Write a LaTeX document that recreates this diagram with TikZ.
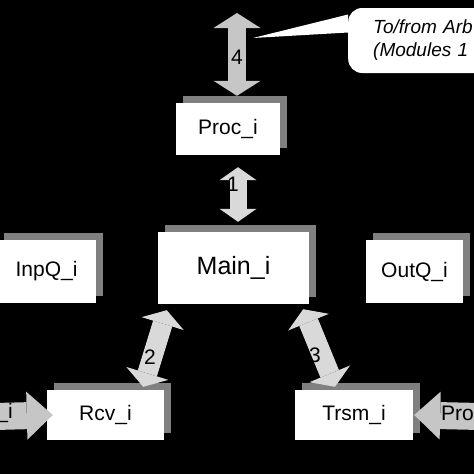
\documentclass[tikz,border=0pt]{standalone}
\usepackage{fontspec}
\setmainfont{Liberation Sans}
\usetikzlibrary{shadows}
\usetikzlibrary{arrows.meta}

\tikzset{
  unitbox/.style={fill=white, inner sep=0pt, font=\fontsize{21}{24}\selectfont,
    drop shadow={shadow xshift=7pt, shadow yshift=7pt, fill=gray, opacity=1}},
  linkarrow/.style={line width=20pt, draw=gray!30,
    {Triangle[length=14pt, width=44pt, line width=0pt]}-{Triangle[length=14pt, width=44pt, line width=0pt]}},
  portarrow/.style={line width=27pt, draw=gray!45,
    -{Triangle[length=26pt, width=48pt, line width=0pt]}},
  numlabel/.style={font=\fontsize{21}{24}\selectfont, inner sep=0pt},
  bubble/.style={fill=white, rounded corners=14pt, inner sep=0pt, align=left,
    font=\fontsize{19}{23}\selectfont\itshape}
}

\begin{document}
\begin{tikzpicture}[x=1pt, y=-1pt]
    \useasboundingbox (0,0) rectangle (474,474);
    \fill[black] (0,0) rectangle (474,474);
    \clip (0,0) rectangle (474,474);

    % modules
    \node[unitbox, minimum width=104pt, minimum height=52pt] (proc) at (228,129) {Proc\_i};
    \node[unitbox, minimum width=151pt, minimum height=72pt,
          font=\fontsize{25}{28}\selectfont] (main) at (233.5,268) {Main\_i};
    \node[unitbox, minimum width=99pt, minimum height=63pt] (inpq) at (46.5,271.5) {InpQ\_i};
    \node[unitbox, minimum width=97pt, minimum height=63pt] (outq) at (414.5,271.5) {OutQ\_i};
    \node[unitbox, minimum width=117pt, minimum height=50pt] (rcv) at (105.5,415) {Rcv\_i};
    \node[unitbox, minimum width=118pt, minimum height=50pt] (trsm) at (354,415) {Trsm\_i};

    % links between modules
    \coordinate (arb) at (237,13);
    \draw[linkarrow, line width=18pt, draw=gray!45,
      {Triangle[length=15pt, width=47pt, line width=0pt]}-{Triangle[length=15pt, width=47pt, line width=0pt]}]
      (arb) -- ([xshift=9pt, yshift=7pt]proc.north);
    \draw[linkarrow, line width=17pt,
      {Triangle[length=13pt, width=37pt, line width=0pt]}-{Triangle[length=13pt, width=37pt, line width=0pt]}]
      ([xshift=10pt, yshift=-12pt]proc.south) -- ([xshift=4.5pt, yshift=10pt]main.north);
    \draw[linkarrow] ([xshift=9pt, yshift=-6pt]main.south west) -- ([xshift=-21pt, yshift=3pt]rcv.north east);
    \draw[linkarrow] ([xshift=-6pt, yshift=-5pt]main.south east) -- ([xshift=-19pt, yshift=3pt]trsm.north);

    \node[numlabel] (n4) at (237,57) {4};
    \node[numlabel] (n1) at (233,184) {1};
    \node[numlabel] (n2) at (150,357) {2};
    \node[numlabel] (n3) at (315,355) {3};

    % ports
    \coordinate (rxsrc) at (-5,416.5);
    \coordinate (txsrc) at (480,416.5);
    \draw[portarrow] (rxsrc) -- ([xshift=6pt]rcv.west);
    \draw[portarrow] (txsrc) -- ([xshift=1pt]trsm.east);
    \node[numlabel, anchor=east] (rxname) at (13,413) {\_i};
    \node[numlabel, anchor=west] (txname) at (441,413) {Prot};

    % note
    \node[bubble, anchor=west, minimum height=65pt, text width=140pt,
          inner xsep=25pt] (note) at (348,40.5) {To/from Arb\\(Modules 1};
    \coordinate (ptr) at (253,38);
    \fill[white] (ptr) -- ([yshift=26pt]note.west) -- ([yshift=8pt]note.west) -- cycle;
\end{tikzpicture}
\end{document}
